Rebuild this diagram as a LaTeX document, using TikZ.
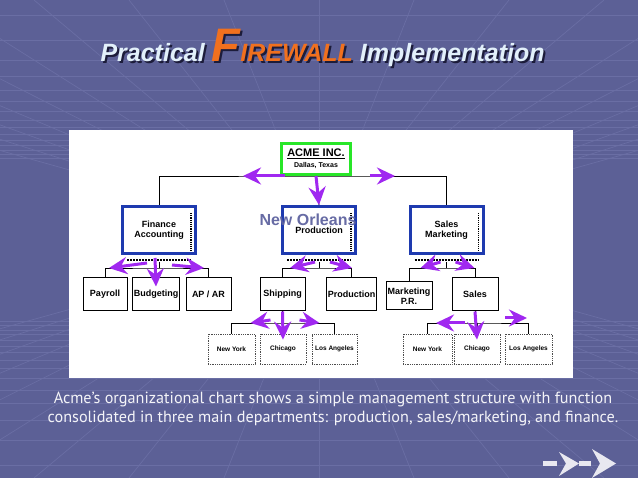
\documentclass[tikz,border=0pt]{standalone}
\usepackage{fontspec}
\setmainfont{Liberation Sans}
\newfontfamily\capfont{PT Sans}
\usetikzlibrary{arrows.meta, calc}

\definecolor{slatebg}{RGB}{92,96,150}
\definecolor{gridcol}{RGB}{106,110,164}
\definecolor{titlecol}{RGB}{226,240,250}
\definecolor{shadowcol}{RGB}{28,28,58}
\definecolor{fireorange}{RGB}{240,112,30}
\definecolor{arrowpurple}{RGB}{160,40,240}
\definecolor{boxblue}{RGB}{30,58,175}
\definecolor{boxgreen}{RGB}{40,230,40}
\definecolor{orleans}{RGB}{95,100,160}
\definecolor{capcol}{RGB}{244,244,248}

\newcommand{\titleline}[1]{\bfseries\itshape\fontsize{25}{25}\selectfont
  Practical {\fontsize{47}{47}\selectfont\color{#1}F}{\color{#1}IREWALL} Implementation}

\begin{document}
\begin{tikzpicture}[x=1pt, y=-1pt,
  gridln/.style={draw=gridcol, line width=0.7pt},
  dept/.style={draw=boxblue, line width=3pt, fill=white, minimum width=73pt,
    minimum height=47pt, align=center, font=\bfseries\fontsize{9}{10.5}\selectfont},
  unit/.style={draw=black, line width=1pt, fill=white, minimum width=45pt,
    minimum height=33pt, inner sep=1pt, align=center,
    font=\bfseries\fontsize{9}{10.5}\selectfont},
  city/.style={draw=black!70, densely dotted, line width=0.8pt, minimum width=46pt,
    minimum height=30pt, inner sep=1pt, font=\bfseries\fontsize{6.5}{7}\selectfont},
  tree/.style={draw=black, line width=0.8pt},
  parrow/.style={draw=arrowpurple, line width=3pt,
    -{Stealth[length=18pt,width=17pt,inset=6pt]}}]

% background and grid
\fill[slatebg] (0,0) rectangle (638,478);
\useasboundingbox (0,0) rectangle (638,478);
\foreach \k in {0,...,14} {
  \draw[gridln] (0,{240-1800/(\k+8)}) -- (638,{240-1800/(\k+8)});
  \draw[gridln] (0,{240+1800/(\k+8)}) -- (638,{240+1800/(\k+8)});
}
\foreach \x in {-9,...,9} {
  \draw[gridln] (319,240) -- ({319+\x*95},0);
  \draw[gridln] (319,240) -- ({319+\x*95},478);
}

% title
\node[anchor=base west, text=shadowcol] (tshadow) at (99,64) {\titleline{shadowcol}};
\node[anchor=base west, text=titlecol] (title) at (97,62) {\titleline{fireorange}};

% chart panel
\node[fill=white, minimum width=504pt, minimum height=248pt, inner sep=0pt,
  anchor=north west] (panel) at (69,130) {};

% boxes
\node[draw=boxgreen, line width=3pt, fill=white, minimum width=69pt, minimum height=31pt,
  inner sep=1pt, align=center] (acme) at (316,159)
  {\bfseries\fontsize{11}{12}\selectfont\underline{ACME INC.}\\[-1pt]
   \bfseries\fontsize{7}{8}\selectfont Dallas, Texas};
\node[dept] (fin) at (159,230) {Finance\\Accounting};
\node[dept] (prod) at (319,230) {Production};
\node[dept] (sal) at (446.5,230) {Sales\\Marketing};

\node[unit, minimum width=44pt] (pay) at (105,294.5) {Payroll};
\node[unit, minimum width=46pt] (bud) at (156,294.5) {Budgeting};
\node[unit] (apar) at (208.5,294.5) {AP / AR};
\node[unit] (ship) at (282.5,294.5) {Shipping};
\node[unit, minimum width=47pt] (prod2) at (351.5,294.5) {Production};
\node[unit, minimum width=46pt, minimum height=28pt] (mkt) at (409,296) {Marketing\\P.R.};
\node[unit, minimum width=46pt] (sal2) at (475,294.5) {Sales};

\node[city, minimum width=47pt] (ny1) at (231.5,349) {New York};
\node[city] (chi1) at (283,349) {Chicago};
\node[city, minimum width=45pt] (la1) at (334.5,349) {Los Angeles};
\node[city, minimum width=49pt] (ny2) at (427.5,349) {New York};
\node[city] (chi2) at (477,349) {Chicago};
\node[city, minimum width=47pt] (la2) at (528.5,349) {Los Angeles};

% ragged edges of the scanned boxes
\foreach \n in {fin,prod,sal} {
  \draw[black, densely dotted, line width=2pt] ($(\n.south west)+(6,5)$) -- ($(\n.south east)+(-6,5)$);
  \draw[black, densely dotted, line width=1.2pt] ($(\n.north east)+(-6,8)$) -- ($(\n.south east)+(-6,-4)$);
}

% tree
\coordinate (fj) at (159,268);
\coordinate (pj) at (319,268);
\coordinate (sj) at (446.5,268);
\coordinate (shj) at (282.5,323);
\coordinate (saj) at (475,323);
\draw[tree] (fin.north) |- (acme.south) -| (sal.north);
\draw[tree] (acme.south) -- (prod.north);
\draw[tree] ($(fin.south)+(0,7)$) -- (fj);
\draw[tree] (pay.north) |- (fj) -| (apar.north);
\draw[tree] (bud.north) -- (bud.north |- fj);
\draw[tree] ($(prod.south)+(0,7)$) -- (pj);
\draw[tree] (ship.north) |- (pj) -| (prod2.north);
\draw[tree] ($(sal.south)+(0,7)$) -- (sj);
\draw[tree] (mkt.north) |- (sj) -| (sal2.north);
\draw[tree] (ship.south) -- (shj);
\draw[tree] (ny1.north) |- (shj) -| (la1.north);
\draw[tree] (chi1.north) -- (chi1.north |- shj);
\draw[tree] (sal2.south) -- (saj);
\draw[tree] (ny2.north) |- (saj) -| (la2.north);
\draw[tree] (chi2.north) -- (chi2.north |- saj);

\node[text=orleans, opacity=0.95, font=\bfseries\fontsize{16}{16}\selectfont] (orl) at (308,220) {New Orleans};

% purple arrows
\draw[parrow] ($(acme.south)+(-31,0)$) -- ($(acme.south)+(-73,0)$);
\draw[parrow] ($(acme.south)+(54,0)$) -- ($(acme.south)+(79,0)$);
\draw[parrow] (acme.south) -- (prod.north);
\draw[parrow] ($(fj)+(-12,-5)$) -- ($(fj)+(-50,0)$);
\draw[parrow] ($(fj)+(-4,-10)$) -- ($(bud.north)+(0,9)$);
\draw[parrow] ($(fj)+(13,-3)$) -- ($(fj)+(45,0)$);
\draw[parrow] ($(pj)+(-4,-6)$) -- ($(pj)+(-29,0)$);
\draw[parrow] ($(pj)+(11,-6)$) -- ($(pj)+(33,0)$);
\draw[parrow] ($(sj)+(-6,-6)$) -- ($(sj)+(-26,0)$);
\draw[parrow] ($(sj)+(9,-6)$) -- ($(sj)+(28,0)$);
\draw[parrow] ($(shj)+(-12,-3)$) -- ($(shj)+(-32,0)$);
\draw[parrow] (ship.south) -- ($(chi1.north)+(0,6)$);
\draw[parrow] ($(shj)+(17,-3)$) -- ($(shj)+(37,0)$);
\draw[parrow] ($(saj)+(-10,0)$) -- ($(saj)+(-39,0)$);
\draw[parrow] (sal2.south) -- ($(chi2.north)+(0,6)$);
\draw[parrow] ($(saj)+(30,-5)$) -- ($(saj)+(52,-5)$);

% caption
\node[text=capcol, align=center, font=\capfont\fontsize{16.2}{18.5}\selectfont] (cap) at (333,409)
  {Acme’s organizational chart shows a simple management structure with function\\
   consolidated in three main departments: production, sales/marketing, and finance.};

% next-slide icon
\fill[capcol!92!slatebg] (543,461) rectangle (557,466);
\fill[capcol!92!slatebg] (559,452) -- (579,463.5) -- (559,476) -- (566,463.5) -- cycle;
\fill[capcol!92!slatebg] (579,461) rectangle (591,466);
\fill[capcol!92!slatebg] (592,449) -- (616,463.5) -- (592,478) -- (600,463.5) -- cycle;
\end{tikzpicture}
\end{document}
